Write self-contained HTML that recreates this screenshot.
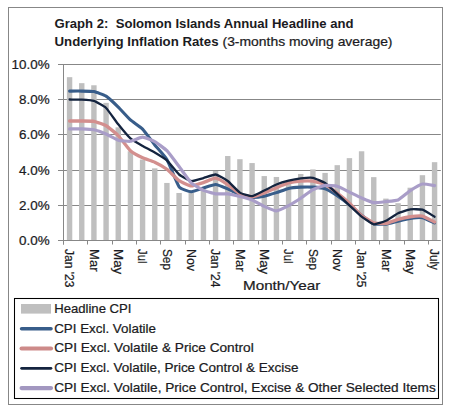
<!DOCTYPE html>
<html><head><meta charset="utf-8"><style>
html,body{margin:0;padding:0;background:#fff;}
body{width:453px;height:416px;overflow:hidden;}
svg{display:block;}
.r{stroke:#1b1b22;stroke-width:0.22px;}
</style></head><body>
<svg width="453" height="416" viewBox="0 0 453 416">
<rect width="453" height="416" fill="#fff"/>
<rect x="8.5" y="7.5" width="434" height="397" fill="none" stroke="#878787" stroke-width="1"/>
<text x="54.5" y="27.6" font-family="Liberation Sans, sans-serif" font-weight="700" font-size="12.1" fill="#1b1b22" textLength="299" lengthAdjust="spacingAndGlyphs" xml:space="preserve">Graph 2:  Solomon Islands Annual Headline and</text>
<text x="54.5" y="45.9" font-family="Liberation Sans, sans-serif" font-weight="700" font-size="12.1" fill="#1b1b22" textLength="164" lengthAdjust="spacingAndGlyphs">Underlying Inflation Rates</text>
<text x="222.5" y="45.9" font-family="Liberation Sans, sans-serif" font-weight="400" font-size="12.7" fill="#1b1b22" class="r" textLength="170" lengthAdjust="spacingAndGlyphs">(3-months moving average)</text>
<line x1="58" y1="205.5" x2="440.8" y2="205.5" stroke="#878787" stroke-width="1"/>
<line x1="58" y1="170.5" x2="440.8" y2="170.5" stroke="#878787" stroke-width="1"/>
<line x1="58" y1="134.5" x2="440.8" y2="134.5" stroke="#878787" stroke-width="1"/>
<line x1="58" y1="99.5" x2="440.8" y2="99.5" stroke="#878787" stroke-width="1"/>
<line x1="58" y1="64.5" x2="440.8" y2="64.5" stroke="#878787" stroke-width="1"/>
<text x="49.6" y="245.10" font-family="Liberation Sans, sans-serif" font-size="12.6" fill="#1b1b22" class="r" text-anchor="end" textLength="30.6" lengthAdjust="spacingAndGlyphs">0.0%</text>
<text x="49.6" y="210.10" font-family="Liberation Sans, sans-serif" font-size="12.6" fill="#1b1b22" class="r" text-anchor="end" textLength="30.6" lengthAdjust="spacingAndGlyphs">2.0%</text>
<text x="49.6" y="175.10" font-family="Liberation Sans, sans-serif" font-size="12.6" fill="#1b1b22" class="r" text-anchor="end" textLength="30.6" lengthAdjust="spacingAndGlyphs">4.0%</text>
<text x="49.6" y="139.10" font-family="Liberation Sans, sans-serif" font-size="12.6" fill="#1b1b22" class="r" text-anchor="end" textLength="30.6" lengthAdjust="spacingAndGlyphs">6.0%</text>
<text x="49.6" y="104.10" font-family="Liberation Sans, sans-serif" font-size="12.6" fill="#1b1b22" class="r" text-anchor="end" textLength="30.6" lengthAdjust="spacingAndGlyphs">8.0%</text>
<text x="49.6" y="69.10" font-family="Liberation Sans, sans-serif" font-size="12.6" fill="#1b1b22" class="r" text-anchor="end" textLength="38.0" lengthAdjust="spacingAndGlyphs">10.0%</text>
<rect x="66.88" y="77.17" width="5.4" height="163.33" fill="#bfbfbf"/>
<rect x="79.05" y="83.16" width="5.4" height="157.34" fill="#bfbfbf"/>
<rect x="91.22" y="85.27" width="5.4" height="155.23" fill="#bfbfbf"/>
<rect x="103.38" y="102.87" width="5.4" height="137.63" fill="#bfbfbf"/>
<rect x="115.55" y="127.33" width="5.4" height="113.17" fill="#bfbfbf"/>
<rect x="127.72" y="151.27" width="5.4" height="89.23" fill="#bfbfbf"/>
<rect x="139.88" y="159.54" width="5.4" height="80.96" fill="#bfbfbf"/>
<rect x="152.05" y="168.34" width="5.4" height="72.16" fill="#bfbfbf"/>
<rect x="164.22" y="182.95" width="5.4" height="57.55" fill="#bfbfbf"/>
<rect x="176.38" y="192.98" width="5.4" height="47.52" fill="#bfbfbf"/>
<rect x="188.55" y="192.63" width="5.4" height="47.87" fill="#bfbfbf"/>
<rect x="200.72" y="189.46" width="5.4" height="51.04" fill="#bfbfbf"/>
<rect x="212.88" y="170.98" width="5.4" height="69.52" fill="#bfbfbf"/>
<rect x="225.05" y="156.02" width="5.4" height="84.48" fill="#bfbfbf"/>
<rect x="237.22" y="159.19" width="5.4" height="81.31" fill="#bfbfbf"/>
<rect x="249.38" y="163.06" width="5.4" height="77.44" fill="#bfbfbf"/>
<rect x="261.55" y="176.08" width="5.4" height="64.42" fill="#bfbfbf"/>
<rect x="273.72" y="176.96" width="5.4" height="63.54" fill="#bfbfbf"/>
<rect x="285.88" y="180.66" width="5.4" height="59.84" fill="#bfbfbf"/>
<rect x="298.05" y="173.97" width="5.4" height="66.53" fill="#bfbfbf"/>
<rect x="310.22" y="169.40" width="5.4" height="71.10" fill="#bfbfbf"/>
<rect x="322.38" y="172.92" width="5.4" height="67.58" fill="#bfbfbf"/>
<rect x="334.55" y="165.17" width="5.4" height="75.33" fill="#bfbfbf"/>
<rect x="346.72" y="158.13" width="5.4" height="82.37" fill="#bfbfbf"/>
<rect x="358.88" y="151.27" width="5.4" height="89.23" fill="#bfbfbf"/>
<rect x="371.05" y="177.14" width="5.4" height="63.36" fill="#bfbfbf"/>
<rect x="383.22" y="198.61" width="5.4" height="41.89" fill="#bfbfbf"/>
<rect x="395.38" y="203.19" width="5.4" height="37.31" fill="#bfbfbf"/>
<rect x="407.55" y="187.70" width="5.4" height="52.80" fill="#bfbfbf"/>
<rect x="419.72" y="175.20" width="5.4" height="65.30" fill="#bfbfbf"/>
<rect x="431.88" y="162.18" width="5.4" height="78.32" fill="#bfbfbf"/>
<line x1="58" y1="240.5" x2="440.8" y2="240.5" stroke="#878787" stroke-width="1"/>
<line x1="63.5" y1="64.50" x2="63.5" y2="244.5" stroke="#878787" stroke-width="1"/>
<line x1="63.50" y1="240.5" x2="63.50" y2="244.5" stroke="#878787" stroke-width="1"/>
<line x1="87.50" y1="240.5" x2="87.50" y2="244.5" stroke="#878787" stroke-width="1"/>
<line x1="112.50" y1="240.5" x2="112.50" y2="244.5" stroke="#878787" stroke-width="1"/>
<line x1="136.50" y1="240.5" x2="136.50" y2="244.5" stroke="#878787" stroke-width="1"/>
<line x1="160.50" y1="240.5" x2="160.50" y2="244.5" stroke="#878787" stroke-width="1"/>
<line x1="185.50" y1="240.5" x2="185.50" y2="244.5" stroke="#878787" stroke-width="1"/>
<line x1="209.50" y1="240.5" x2="209.50" y2="244.5" stroke="#878787" stroke-width="1"/>
<line x1="233.50" y1="240.5" x2="233.50" y2="244.5" stroke="#878787" stroke-width="1"/>
<line x1="258.50" y1="240.5" x2="258.50" y2="244.5" stroke="#878787" stroke-width="1"/>
<line x1="282.50" y1="240.5" x2="282.50" y2="244.5" stroke="#878787" stroke-width="1"/>
<line x1="306.50" y1="240.5" x2="306.50" y2="244.5" stroke="#878787" stroke-width="1"/>
<line x1="331.50" y1="240.5" x2="331.50" y2="244.5" stroke="#878787" stroke-width="1"/>
<line x1="355.50" y1="240.5" x2="355.50" y2="244.5" stroke="#878787" stroke-width="1"/>
<line x1="379.50" y1="240.5" x2="379.50" y2="244.5" stroke="#878787" stroke-width="1"/>
<line x1="404.50" y1="240.5" x2="404.50" y2="244.5" stroke="#878787" stroke-width="1"/>
<line x1="428.50" y1="240.5" x2="428.50" y2="244.5" stroke="#878787" stroke-width="1"/>
<path d="M69.58,91.08 C70.44,91.08 80.05,91.04 81.75,91.08 C83.45,91.11 92.21,91.25 93.92,91.60 C95.62,91.96 104.38,95.10 106.08,96.18 C107.79,97.26 116.55,105.43 118.25,107.09 C119.95,108.76 128.71,118.40 130.42,119.94 C132.12,121.48 140.88,127.34 142.58,129.09 C144.29,130.84 153.05,142.80 154.75,144.93 C156.45,147.06 165.21,156.61 166.92,159.54 C168.62,162.47 177.38,184.57 179.08,186.82 C180.79,189.07 189.55,191.66 191.25,191.75 C192.95,191.83 201.71,188.56 203.42,188.05 C205.12,187.55 213.88,184.47 215.58,184.53 C217.29,184.59 226.05,188.22 227.75,188.93 C229.45,189.65 238.21,194.15 239.92,194.74 C241.62,195.33 250.38,197.28 252.08,197.38 C253.79,197.48 262.55,196.48 264.25,196.15 C265.95,195.82 274.71,193.17 276.42,192.63 C278.12,192.09 286.88,188.79 288.58,188.40 C290.29,188.02 299.05,187.26 300.75,187.17 C302.45,187.09 311.21,187.06 312.92,187.17 C314.62,187.28 323.38,188.16 325.08,188.76 C326.79,189.35 335.55,194.50 337.25,195.62 C338.95,196.74 347.71,203.39 349.42,204.77 C351.12,206.15 359.88,214.00 361.58,215.33 C363.29,216.66 372.05,223.16 373.75,223.78 C375.45,224.40 384.21,224.32 385.92,224.13 C387.62,223.95 396.38,221.53 398.08,221.14 C399.79,220.75 408.55,218.75 410.25,218.50 C411.95,218.25 420.71,217.31 422.42,217.62 C424.12,217.93 433.73,222.53 434.58,222.90" fill="none" stroke="#385d8a" stroke-width="3.1" stroke-linecap="round" stroke-linejoin="round"/>
<path d="M69.58,121.00 C70.44,121.00 80.05,120.97 81.75,121.00 C83.45,121.02 92.21,121.02 93.92,121.35 C95.62,121.68 104.38,124.75 106.08,125.75 C107.79,126.75 116.55,133.85 118.25,135.60 C119.95,137.35 128.71,149.19 130.42,150.74 C132.12,152.29 140.88,156.98 142.58,157.78 C144.29,158.58 153.05,161.38 154.75,162.18 C156.45,162.98 165.21,167.93 166.92,169.22 C168.62,170.51 177.38,179.49 179.08,180.66 C180.79,181.83 189.55,185.80 191.25,185.94 C192.95,186.08 201.71,183.14 203.42,182.60 C205.12,182.05 213.88,178.06 215.58,178.20 C217.29,178.33 226.05,183.44 227.75,184.53 C229.45,185.63 238.21,193.00 239.92,193.86 C241.62,194.72 250.38,196.91 252.08,196.85 C253.79,196.79 262.55,193.62 264.25,192.98 C265.95,192.34 274.71,188.40 276.42,187.70 C278.12,187.00 286.88,183.40 288.58,182.95 C290.29,182.49 299.05,181.31 300.75,181.19 C302.45,181.06 311.21,180.94 312.92,181.19 C314.62,181.43 323.38,183.88 325.08,184.71 C326.79,185.53 335.55,191.69 337.25,192.98 C338.95,194.27 347.71,201.61 349.42,203.19 C351.12,204.76 359.88,214.13 361.58,215.51 C363.29,216.89 372.05,222.35 373.75,222.90 C375.45,223.45 384.21,223.67 385.92,223.43 C387.62,223.18 396.38,219.85 398.08,219.38 C399.79,218.91 408.55,216.96 410.25,216.74 C411.95,216.52 420.71,215.84 422.42,216.21 C424.12,216.58 433.73,221.61 434.58,222.02" fill="none" stroke="#d38f8e" stroke-width="3.3" stroke-linecap="round" stroke-linejoin="round"/>
<path d="M69.58,99.52 C70.44,99.54 80.05,99.60 81.75,99.70 C83.45,99.80 92.21,100.35 93.92,100.93 C95.62,101.51 104.38,106.33 106.08,107.97 C107.79,109.61 116.55,122.21 118.25,124.34 C119.95,126.47 128.71,136.90 130.42,138.42 C132.12,139.94 140.88,145.00 142.58,145.99 C144.29,146.97 153.05,151.49 154.75,152.50 C156.45,153.51 165.21,158.88 166.92,160.42 C168.62,161.96 177.38,173.06 179.08,174.50 C180.79,175.94 189.55,180.77 191.25,181.01 C192.95,181.26 201.71,178.48 203.42,178.02 C205.12,177.56 213.88,174.29 215.58,174.50 C217.29,174.71 226.05,179.74 227.75,181.01 C229.45,182.28 238.21,191.57 239.92,192.63 C241.62,193.69 250.38,196.30 252.08,196.15 C253.79,196.00 262.55,191.33 264.25,190.52 C265.95,189.70 274.71,185.22 276.42,184.53 C278.12,183.84 286.88,181.09 288.58,180.66 C290.29,180.23 299.05,178.57 300.75,178.37 C302.45,178.17 311.21,177.52 312.92,177.84 C314.62,178.16 323.38,181.83 325.08,182.95 C326.79,184.07 335.55,192.30 337.25,193.86 C338.95,195.42 347.71,203.71 349.42,205.30 C351.12,206.89 359.88,215.23 361.58,216.56 C363.29,217.89 372.05,224.01 373.75,224.31 C375.45,224.60 384.21,221.56 385.92,220.79 C387.62,220.01 396.38,214.02 398.08,213.22 C399.79,212.42 408.55,209.59 410.25,209.35 C411.95,209.10 420.71,209.18 422.42,209.70 C424.12,210.22 433.73,216.25 434.58,216.74" fill="none" stroke="#14243f" stroke-width="2.3" stroke-linecap="round" stroke-linejoin="round"/>
<path d="M69.58,128.92 C70.44,128.92 80.05,128.85 81.75,128.92 C83.45,128.98 92.21,129.44 93.92,129.80 C95.62,130.15 104.38,133.29 106.08,134.02 C107.79,134.75 116.55,139.67 118.25,140.18 C119.95,140.69 128.71,141.45 130.42,141.24 C132.12,141.03 140.88,137.16 142.58,137.19 C144.29,137.21 153.05,140.64 154.75,141.59 C156.45,142.54 165.21,148.99 166.92,150.74 C168.62,152.49 177.38,164.33 179.08,166.58 C180.79,168.83 189.55,181.28 191.25,182.95 C192.95,184.61 201.71,189.58 203.42,190.34 C205.12,191.10 213.88,193.61 215.58,193.86 C217.29,194.11 226.05,193.68 227.75,193.86 C229.45,194.04 238.21,196.07 239.92,196.50 C241.62,196.93 250.38,199.33 252.08,200.02 C253.79,200.71 262.55,205.59 264.25,206.36 C265.95,207.12 274.71,210.98 276.42,210.93 C278.12,210.88 286.88,206.54 288.58,205.65 C290.29,204.76 299.05,199.38 300.75,198.26 C302.45,197.14 311.21,190.54 312.92,189.64 C314.62,188.74 323.38,185.65 325.08,185.41 C326.79,185.18 335.55,185.82 337.25,186.29 C338.95,186.76 347.71,191.29 349.42,192.10 C351.12,192.91 359.88,197.17 361.58,197.91 C363.29,198.65 372.05,202.40 373.75,202.66 C375.45,202.92 384.21,201.79 385.92,201.60 C387.62,201.42 396.38,200.78 398.08,200.02 C399.79,199.26 408.55,191.81 410.25,190.69 C411.95,189.57 420.71,184.36 422.42,184.00 C424.12,183.65 433.73,185.48 434.58,185.59" fill="none" stroke="#a99dc8" stroke-width="3.2" stroke-linecap="round" stroke-linejoin="round"/>
<text transform="translate(65.28,249) rotate(90)" font-family="Liberation Sans, sans-serif" font-size="12.2" fill="#1b1b22" class="r" textLength="38.5" lengthAdjust="spacingAndGlyphs">Jan '23</text>
<text transform="translate(89.62,249) rotate(90)" font-family="Liberation Sans, sans-serif" font-size="12.2" fill="#1b1b22" class="r" textLength="22.5" lengthAdjust="spacingAndGlyphs">Mar</text>
<text transform="translate(113.95,249) rotate(90)" font-family="Liberation Sans, sans-serif" font-size="12.2" fill="#1b1b22" class="r" textLength="25.3" lengthAdjust="spacingAndGlyphs">May</text>
<text transform="translate(138.28,249) rotate(90)" font-family="Liberation Sans, sans-serif" font-size="12.2" fill="#1b1b22" class="r" textLength="14.5" lengthAdjust="spacingAndGlyphs">Jul</text>
<text transform="translate(162.62,249) rotate(90)" font-family="Liberation Sans, sans-serif" font-size="12.2" fill="#1b1b22" class="r" textLength="21" lengthAdjust="spacingAndGlyphs">Sep</text>
<text transform="translate(186.95,249) rotate(90)" font-family="Liberation Sans, sans-serif" font-size="12.2" fill="#1b1b22" class="r" textLength="22" lengthAdjust="spacingAndGlyphs">Nov</text>
<text transform="translate(211.28,249) rotate(90)" font-family="Liberation Sans, sans-serif" font-size="12.2" fill="#1b1b22" class="r" textLength="38.5" lengthAdjust="spacingAndGlyphs">Jan '24</text>
<text transform="translate(235.62,249) rotate(90)" font-family="Liberation Sans, sans-serif" font-size="12.2" fill="#1b1b22" class="r" textLength="22.5" lengthAdjust="spacingAndGlyphs">Mar</text>
<text transform="translate(259.95,249) rotate(90)" font-family="Liberation Sans, sans-serif" font-size="12.2" fill="#1b1b22" class="r" textLength="25.3" lengthAdjust="spacingAndGlyphs">May</text>
<text transform="translate(284.28,249) rotate(90)" font-family="Liberation Sans, sans-serif" font-size="12.2" fill="#1b1b22" class="r" textLength="14.5" lengthAdjust="spacingAndGlyphs">Jul</text>
<text transform="translate(308.62,249) rotate(90)" font-family="Liberation Sans, sans-serif" font-size="12.2" fill="#1b1b22" class="r" textLength="21" lengthAdjust="spacingAndGlyphs">Sep</text>
<text transform="translate(332.95,249) rotate(90)" font-family="Liberation Sans, sans-serif" font-size="12.2" fill="#1b1b22" class="r" textLength="22" lengthAdjust="spacingAndGlyphs">Nov</text>
<text transform="translate(357.28,249) rotate(90)" font-family="Liberation Sans, sans-serif" font-size="12.2" fill="#1b1b22" class="r" textLength="38.5" lengthAdjust="spacingAndGlyphs">Jan '25</text>
<text transform="translate(381.62,249) rotate(90)" font-family="Liberation Sans, sans-serif" font-size="12.2" fill="#1b1b22" class="r" textLength="22.5" lengthAdjust="spacingAndGlyphs">Mar</text>
<text transform="translate(405.95,249) rotate(90)" font-family="Liberation Sans, sans-serif" font-size="12.2" fill="#1b1b22" class="r" textLength="25.3" lengthAdjust="spacingAndGlyphs">May</text>
<text transform="translate(430.28,249) rotate(90)" font-family="Liberation Sans, sans-serif" font-size="12.2" fill="#1b1b22" class="r" textLength="21" lengthAdjust="spacingAndGlyphs">July</text>
<text x="243" y="289.7" font-family="Liberation Sans, sans-serif" font-size="13.4" fill="#1b1b22" class="r" textLength="77.3" lengthAdjust="spacingAndGlyphs">Month/Year</text>
<rect x="14.5" y="298.5" width="424" height="100" fill="none" stroke="#000" stroke-width="1.05"/>
<rect x="21" y="304" width="30" height="9.6" fill="#bfbfbf"/>
<text x="54.2" y="312.6" font-family="Liberation Sans, sans-serif" font-size="12.4" fill="#1b1b22" class="r" textLength="77.3" lengthAdjust="spacingAndGlyphs">Headline CPI</text>
<line x1="21.6" y1="328.70" x2="51.0" y2="328.70" stroke="#385d8a" stroke-width="3.6" stroke-linecap="round"/>
<text x="54.2" y="332.6" font-family="Liberation Sans, sans-serif" font-size="12.4" fill="#1b1b22" class="r" textLength="101.8" lengthAdjust="spacingAndGlyphs">CPI Excl. Volatile</text>
<line x1="21.6" y1="348.50" x2="51.0" y2="348.50" stroke="#cd8a89" stroke-width="4.2" stroke-linecap="round"/>
<text x="54.2" y="352.4" font-family="Liberation Sans, sans-serif" font-size="12.4" fill="#1b1b22" class="r" textLength="199.5" lengthAdjust="spacingAndGlyphs">CPI Excl. Volatile &amp; Price Control</text>
<line x1="21.6" y1="368.30" x2="51.0" y2="368.30" stroke="#14243f" stroke-width="2.7" stroke-linecap="round"/>
<text x="54.2" y="372.2" font-family="Liberation Sans, sans-serif" font-size="12.4" fill="#1b1b22" class="r" textLength="244.4" lengthAdjust="spacingAndGlyphs">CPI Excl. Volatile, Price Control &amp; Excise</text>
<line x1="21.6" y1="388.10" x2="51.0" y2="388.10" stroke="#a297c0" stroke-width="4.2" stroke-linecap="round"/>
<text x="54.2" y="392.0" font-family="Liberation Sans, sans-serif" font-size="12.4" fill="#1b1b22" class="r" textLength="381.5" lengthAdjust="spacingAndGlyphs">CPI Excl. Volatile, Price Control, Excise &amp; Other Selected Items</text>
</svg>
</body></html>
